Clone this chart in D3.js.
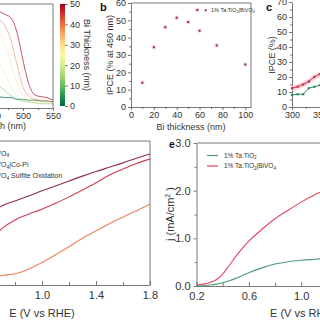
<!DOCTYPE html>
<html>
<head>
<meta charset="utf-8">
<script src="https://cdn.jsdelivr.net/npm/d3@7"></script>
<style>
  body { margin: 0; background: #fff; }
  svg { display: block; font-family: "Liberation Sans", Arial, sans-serif; }
</style>
</head>
<body>
<svg id="chart" width="320" height="320"></svg>
<script>
'use strict';

// panel a: absorbance spectra for several Bi thicknesses
const wavelengths = [420, 440, 460, 470, 480, 490, 500, 510, 520, 530, 540, 550];
const biThickness = [0, 10, 20, 30, 40, 50];
const absBi0  = [0.14, 0.13, 0.13, 0.12, 0.12, 0.10, 0.10, 0.09, 0.09, 0.08, 0.08, 0.07];
const absBi10 = [0.42, 0.32, 0.25, 0.20, 0.14, 0.10, 0.08, 0.07, 0.06, 0.05, 0.05, 0.05];
const absBi20 = [0.76, 0.67, 0.53, 0.39, 0.24, 0.14, 0.09, 0.07, 0.06, 0.05, 0.05, 0.05];
const absBi30 = [0.97, 0.93, 0.87, 0.73, 0.52, 0.29, 0.15, 0.10, 0.08, 0.07, 0.07, 0.06];
const absBi40 = [1.06, 1.05, 1.02, 0.95, 0.78, 0.50, 0.24, 0.14, 0.10, 0.09, 0.08, 0.07];
const absBi50 = [1.13, 1.12, 1.11, 1.08, 1.04, 0.87, 0.55, 0.27, 0.15, 0.13, 0.12, 0.09];

// panel b: IPCE at 450 nm vs Bi thickness
const ipceThickness = [10, 20, 30, 40, 50, 58, 60, 75, 100];
const ipce450 = [14, 34.5, 46, 51.5, 49, 56, 44, 35.5, 24.5];

// panel c: IPCE spectra (start of)
const wavelengthsC = [300, 310, 320, 330, 340, 350];
const ipceTiO2 = [8, 8.5, 8.5, 12.5, 13.5, 14.5];
const ipceTiO2BiVO4 = [12.5, 13.5, 15, 17, 20, 22];

// panel d: j-E curves
const potentialD = [0.6, 0.7, 0.8, 0.9, 1.0, 1.1, 1.2, 1.3, 1.4, 1.5, 1.6, 1.7, 1.8];
const jBiVO4   = [0.14, 0.33, 0.39, 0.55, 0.78, 1.05, 1.33, 1.62, 1.88, 2.13, 2.36, 2.58, 2.80];
const jCoPi    = [1.46, 1.95, 2.26, 2.46, 2.63, 2.84, 3.06, 3.30, 3.55, 3.82, 4.03, 4.22, 4.38];
const jSulfite = [2.43, 2.74, 2.92, 3.09, 3.27, 3.44, 3.61, 3.78, 3.94, 4.09, 4.24, 4.40, 4.55];

// panel e: j-E curves
const potentialE = [0.2, 0.25, 0.3, 0.35, 0.4, 0.45, 0.5, 0.55, 0.6, 0.7, 0.8, 0.9, 1.0, 1.1, 1.2];
const jTiO2E  = [0, 0.005, 0.02, 0.04, 0.07, 0.11, 0.16, 0.22, 0.28, 0.38, 0.46, 0.51, 0.54, 0.56, 0.58];
const jBiVO4E = [0.02, 0.04, 0.07, 0.13, 0.25, 0.43, 0.62, 0.79, 0.94, 1.19, 1.41, 1.59, 1.76, 1.91, 2.03];

const axisCol = "#555", textCol = "#333";
const svg = d3.select("#chart");

function styleAxis(g, size) {
  g.select(".domain").attr("stroke", axisCol).attr("stroke-width", 0.8);
  g.selectAll(".tick line").attr("stroke", axisCol).attr("stroke-width", 0.8);
  g.selectAll(".tick text").attr("fill", textCol).style("font-size", size + "px");
}

function hline(x1, x2, y) {
  svg.append("line").attr("x1", x1).attr("x2", x2).attr("y1", y).attr("y2", y)
    .attr("stroke", axisCol).attr("stroke-width", 0.8);
}
function vline(x, y1, y2) {
  svg.append("line").attr("x1", x).attr("x2", x).attr("y1", y1).attr("y2", y2)
    .attr("stroke", axisCol).attr("stroke-width", 0.8);
}

// text with subscripts: parts = [[text, sub?], ...]
function richText(g, parts, size) {
  const t = g.append("text").attr("fill", textCol).style("font-size", size + "px");
  parts.forEach((p, i) => {
    const s = t.append("tspan").text(p[0]);
    const prevSub = i > 0 && parts[i - 1][1];
    if (p[1]) s.style("font-size", (size * 0.7) + "px");
    if (p[1] && !prevSub) s.attr("dy", size * 0.25);
    else if (!p[1] && prevSub) s.attr("dy", -size * 0.25);
  });
  return t;
}
const labelTiO2 = [["1% Ta:TiO"], ["2", true]];
const labelTiO2BiVO4 = [["1% Ta:TiO"], ["2", true], ["|BiVO"], ["4", true]];

// ---------------- panel a ----------------
const xA = d3.scaleLinear().domain([300, 550]).range([-97, 53]);
const yA = d3.scaleLinear().domain([0, 1.2]).range([108, 4]);
const colorA = t => d3.interpolateRdYlGn(1 - t / 50);
const absSeries = [absBi0, absBi10, absBi20, absBi30, absBi40, absBi50];

const lineA = d3.line().x((d, i) => xA(wavelengths[i])).y(d => yA(d)).curve(d3.curveMonotoneX);
svg.append("g").selectAll("path").data(absSeries).join("path")
  .attr("d", lineA).attr("fill", "none")
  .attr("stroke", (d, i) => colorA(biThickness[i])).attr("stroke-width", 0.9)
  .attr("stroke-opacity", (d, i) => i === 5 || i === 0 ? 0.75 : 0.55);

hline(-97, 53, 4);
vline(53, 4, 108);
svg.append("g").attr("transform", "translate(0,108)")
  .call(d3.axisBottom(xA).tickValues(d3.range(325, 551, 50)).tickFormat("").tickSize(2))
  .call(g => styleAxis(g, 9)).call(g => g.select(".domain").remove());
svg.append("g").attr("transform", "translate(0,108)")
  .call(d3.axisBottom(xA).tickValues(d3.range(300, 551, 50)).tickSize(3).tickSizeOuter(0).tickPadding(2))
  .call(g => styleAxis(g, 9));
svg.append("text").attr("x", 26).attr("y", 129).attr("text-anchor", "end")
  .attr("fill", textCol).style("font-size", "9px").text("Wavelength (nm)");

// colour bar
const yCB = d3.scaleLinear().domain([0, 50]).range([106, 4]);
const grad = svg.append("defs").append("linearGradient").attr("id", "cb")
  .attr("x1", 0).attr("x2", 0).attr("y1", 1).attr("y2", 0);
grad.selectAll("stop").data(d3.range(0, 1.001, 0.1)).join("stop")
  .attr("offset", d => d * 100 + "%").attr("stop-color", d => colorA(d * 50));
svg.append("rect").attr("x", 60).attr("y", 4).attr("width", 5).attr("height", 102).attr("fill", "url(#cb)");
svg.append("g").attr("transform", "translate(65,0)")
  .call(d3.axisRight(yCB).tickValues(biThickness).tickSize(3).tickPadding(2))
  .call(g => styleAxis(g, 9)).call(g => g.select(".domain").remove());
svg.append("text").attr("transform", "translate(84,55) rotate(90)").attr("text-anchor", "middle")
  .attr("fill", textCol).style("font-size", "9px").text("Bi Thickness (nm)");

// ---------------- panel b ----------------
const xB = d3.scaleLinear().domain([0, 105]).range([131, 251]);
const yB = d3.scaleLinear().domain([0, 60]).range([107, 3]);
hline(131, 251, 3);
vline(251, 3, 107);
svg.append("g").attr("transform", "translate(0,107)")
  .call(d3.axisBottom(xB).tickValues(d3.range(10, 101, 20)).tickFormat("").tickSize(2))
  .call(g => styleAxis(g, 9)).call(g => g.select(".domain").remove());
svg.append("g").attr("transform", "translate(0,107)")
  .call(d3.axisBottom(xB).tickValues(d3.range(0, 101, 20)).tickSize(3).tickSizeOuter(0).tickPadding(2))
  .call(g => styleAxis(g, 9));
svg.append("g").attr("transform", "translate(131,0)")
  .call(d3.axisLeft(yB).tickValues(d3.range(5, 60, 10)).tickFormat("").tickSize(2))
  .call(g => styleAxis(g, 9)).call(g => g.select(".domain").remove());
svg.append("g").attr("transform", "translate(131,0)")
  .call(d3.axisLeft(yB).tickValues(d3.range(0, 61, 10)).tickSize(3).tickSizeOuter(0).tickPadding(2))
  .call(g => styleAxis(g, 9));
svg.append("g").selectAll("circle").data(ipce450).join("circle")
  .attr("cx", (d, i) => xB(ipceThickness[i])).attr("cy", d => yB(d)).attr("r", 2.4)
  .attr("fill", "#f8dde3");
svg.append("g").selectAll("rect").data(ipce450).join("rect")
  .attr("x", (d, i) => xB(ipceThickness[i]) - 1).attr("y", d => yB(d) - 1)
  .attr("width", 2).attr("height", 2).attr("fill", "#9e2a45");
svg.append("rect").attr("x", 204.7).attr("y", 9.3).attr("width", 2).attr("height", 2).attr("fill", "#9e2a45");
richText(svg, labelTiO2BiVO4, 5.5).attr("x", 211).attr("y", 12);
svg.append("text").attr("x", 100).attr("y", 11).attr("fill", "#111")
  .style("font-size", "11px").style("font-weight", "bold").text("b");
svg.append("text").attr("transform", "translate(113,55) rotate(-90)").attr("text-anchor", "middle")
  .attr("fill", textCol).style("font-size", "9px").text("IPCE (% at 450 nm)");
svg.append("text").attr("x", 191).attr("y", 130).attr("text-anchor", "middle")
  .attr("fill", textCol).style("font-size", "9px").text("Bi thickness (nm)");

// ---------------- panel c ----------------
const xC = d3.scaleLinear().domain([300, 350]).range([292, 320]);
const yC = d3.scaleLinear().domain([0, 70]).range([107, 2]);
svg.append("g").attr("transform", "translate(0,107)")
  .call(d3.axisBottom(xC).tickValues([325]).tickFormat("").tickSize(2))
  .call(g => styleAxis(g, 9)).call(g => g.select(".domain").remove());
svg.append("g").attr("transform", "translate(0,107)")
  .call(d3.axisBottom(xC).tickValues([300, 350]).tickSize(3).tickSizeOuter(0).tickPadding(2))
  .call(g => styleAxis(g, 9));
svg.append("g").attr("transform", "translate(292,0)")
  .call(d3.axisLeft(yC).tickValues(d3.range(5, 70, 10)).tickFormat("").tickSize(2))
  .call(g => styleAxis(g, 9)).call(g => g.select(".domain").remove());
svg.append("g").attr("transform", "translate(292,0)")
  .call(d3.axisLeft(yC).tickValues(d3.range(0, 71, 10)).tickSize(3).tickSizeOuter(0).tickPadding(2))
  .call(g => styleAxis(g, 9));
const lineC = d3.line().x((d, i) => xC(wavelengthsC[i])).y(d => yC(d));
svg.append("path").attr("d", lineC(ipceTiO2BiVO4)).attr("fill", "none")
  .attr("stroke", "#f7c6cf").attr("stroke-width", 5).attr("opacity", 0.7);
[[ipceTiO2, "#2f8a5c"], [ipceTiO2BiVO4, "#c62f4b"]].forEach(([vals, col]) => {
  svg.append("path").attr("d", lineC(vals)).attr("fill", "none").attr("stroke", col).attr("stroke-width", 1);
  svg.append("g").selectAll("rect").data(vals).join("rect")
    .attr("x", (d, i) => xC(wavelengthsC[i]) - 1.1).attr("y", d => yC(d) - 1.1)
    .attr("width", 2.2).attr("height", 2.2).attr("fill", col);
});
svg.append("text").attr("x", 266).attr("y", 11).attr("fill", "#111")
  .style("font-size", "11px").style("font-weight", "bold").text("c");
svg.append("text").attr("transform", "translate(275,55) rotate(-90)").attr("text-anchor", "middle")
  .attr("fill", textCol).style("font-size", "9px").text("IPCE (%)");

// ---------------- panel d ----------------
const xD = d3.scaleLinear().domain([0.2, 1.8]).range([-66, 150]);
const yD = d3.scaleLinear().domain([0, 5]).range([285, 141]);
hline(-66, 150, 141);
vline(150, 141, 285);
svg.append("g").attr("transform", "translate(0,285)")
  .call(d3.axisBottom(xD).tickValues([0.4, 0.8, 1.2, 1.6]).tickFormat("").tickSize(-3))
  .call(g => styleAxis(g, 11)).call(g => g.select(".domain").remove());
svg.append("g").attr("transform", "translate(0,285)")
  .call(d3.axisBottom(xD).tickValues([0.2, 0.6, 1.0, 1.4, 1.8]).tickFormat(d3.format(".1f"))
    .tickSize(-4).tickSizeOuter(0).tickPadding(6))
  .call(g => styleAxis(g, 11));
const lineD = d3.line().x((d, i) => xD(potentialD[i])).y(d => yD(d)).curve(d3.curveMonotoneX);
[[jBiVO4, "#f0805a"], [jCoPi, "#d43a52"], [jSulfite, "#8c2f4c"]].forEach(([vals, col]) => {
  svg.append("path").attr("d", lineD(vals)).attr("fill", "none").attr("stroke", col).attr("stroke-width", 1.1);
});
const legendD = [
  [["1% Ta:TiO"], ["2", true], ["|BiVO"], ["4", true]],
  [["1% Ta:TiO"], ["2", true], ["|BiVO"], ["4", true], ["|Co-Pi"]],
  [["1% Ta:TiO"], ["2", true], ["|BiVO"], ["4", true], [" Sulfite Oxidation"]]
];
const prefix = richText(svg, [["1% Ta:TiO"], ["2", true], ["|BiV"]], 7);
const prefixLen = prefix.node().getComputedTextLength();
prefix.remove();
legendD.forEach((parts, i) => {
  richText(svg, parts, 7).attr("x", 1 - prefixLen).attr("y", 155.5 + i * 11.3);
});
svg.append("text").attr("x", 42).attr("y", 317).attr("text-anchor", "middle")
  .attr("fill", textCol).style("font-size", "11px").text("E (V vs RHE)");

// ---------------- panel e ----------------
const xE = d3.scaleLinear().domain([0.2, 1.2]).range([196.5, 327.4]);
const yE = d3.scaleLinear().domain([0, 3]).range([286, 143]);
hline(196.5, 330, 143);
svg.append("g").attr("transform", "translate(0,286)")
  .call(d3.axisBottom(xE).tickValues([0.4, 0.8, 1.2]).tickFormat("").tickSize(-3))
  .call(g => styleAxis(g, 11)).call(g => g.select(".domain").remove());
svg.append("g").attr("transform", "translate(0,286)")
  .call(d3.axisBottom(xE).tickValues([0.2, 0.6, 1.0]).tickFormat(d3.format(".1f"))
    .tickSize(-4).tickSizeOuter(0).tickPadding(6))
  .call(g => styleAxis(g, 11));
svg.append("g").attr("transform", "translate(196.5,0)")
  .call(d3.axisLeft(yE).tickValues([0.5, 1.5, 2.5]).tickFormat("").tickSize(2))
  .call(g => styleAxis(g, 11)).call(g => g.select(".domain").remove());
svg.append("g").attr("transform", "translate(196.5,0)")
  .call(d3.axisLeft(yE).tickValues([0, 1, 2, 3]).tickSize(3).tickSizeOuter(0).tickPadding(3))
  .call(g => styleAxis(g, 11));
const lineE = d3.line().x((d, i) => xE(potentialE[i])).y(d => yE(d)).curve(d3.curveMonotoneX);
svg.append("path").attr("d", lineE(jTiO2E)).attr("fill", "none").attr("stroke", "#4f9a72").attr("stroke-width", 1.1);
svg.append("path").attr("d", lineE(jBiVO4E)).attr("fill", "none").attr("stroke", "#e0445e").attr("stroke-width", 1.1);
[[labelTiO2, "#4f9a72"], [labelTiO2BiVO4, "#e0445e"]].forEach(([parts, col], i) => {
  const y = 155.5 + i * 10.5;
  svg.append("line").attr("x1", 207).attr("x2", 218).attr("y1", y).attr("y2", y)
    .attr("stroke", col).attr("stroke-width", 1.2);
  richText(svg, parts, 6.5).attr("x", 224).attr("y", y + 2.3);
});
svg.append("text").attr("x", 169).attr("y", 148).attr("fill", "#111")
  .style("font-size", "10.5px").style("font-weight", "bold").text("e");
svg.append("text").attr("transform", "translate(174,214) rotate(-90)").attr("text-anchor", "middle")
  .attr("fill", textCol).style("font-size", "11px")
  .call(t => { t.append("tspan").text("j (mA/cm"); t.append("tspan").attr("dy", -4).style("font-size", "7px").text("2"); t.append("tspan").attr("dy", 4).text(" )"); });
svg.append("text").attr("x", 270).attr("y", 317)
  .attr("fill", textCol).style("font-size", "11px").text("E (V vs RHE)");
</script>
</body>
</html>
